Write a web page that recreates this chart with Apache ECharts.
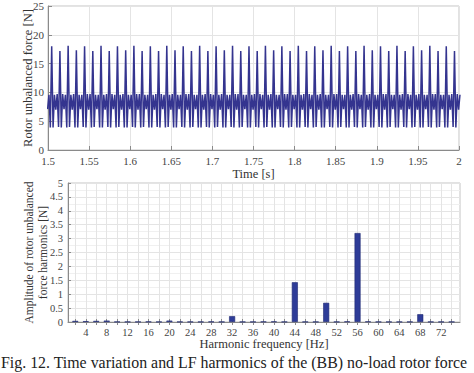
<!DOCTYPE html>
<html><head><meta charset="utf-8">
<script src="https://cdn.jsdelivr.net/npm/echarts@6/dist/echarts.min.js"></script>
<style>html,body{margin:0;padding:0;background:#fff}#c{width:474px;height:373px}</style>
</head><body><div id="c"></div>
<script>
// ---- time signal (sampled) ----
const timeStart = 1.4995;      // time of first sample [s]
const timeStep = 0.0016667;    // sample interval [s]
const force = [
  7.1, 9.6, 3.9,
  18.0, 3.9, 9.6, 7.0, 9.7, 4.0,
  17.2, 3.9, 9.7, 7.1, 9.6, 3.9,
  18.1, 4.0, 9.6, 7.0, 9.7, 3.9,
  17.3, 3.9, 9.6, 7.1, 9.6, 4.0,
  18.0, 3.9, 9.7, 7.0, 9.7, 3.9,
  17.2, 4.0, 9.6, 7.1, 9.6, 3.9,
  18.1, 3.9, 9.6, 7.0, 9.7, 4.0,
  17.2, 3.9, 9.7, 7.1, 9.6, 3.9,
  18.0, 4.0, 9.6, 7.0, 9.7, 3.9,
  17.3, 3.9, 9.6, 7.1, 9.6, 4.0,
  18.1, 3.9, 9.7, 7.0, 9.7, 3.9,
  17.2, 4.0, 9.6, 7.1, 9.6, 3.9,
  18.0, 3.9, 9.6, 7.0, 9.7, 4.0,
  17.2, 3.9, 9.7, 7.1, 9.6, 3.9,
  18.1, 4.0, 9.6, 7.0, 9.7, 3.9,
  17.3, 3.9, 9.6, 7.1, 9.6, 4.0,
  18.0, 3.9, 9.7, 7.0, 9.7, 3.9,
  17.2, 4.0, 9.6, 7.1, 9.6, 3.9,
  18.1, 3.9, 9.6, 7.0, 9.7, 4.0,
  17.2, 3.9, 9.7, 7.1, 9.6, 3.9,
  18.0, 4.0, 9.6, 7.0, 9.7, 3.9,
  17.3, 3.9, 9.6, 7.1, 9.6, 4.0,
  18.1, 3.9, 9.7, 7.0, 9.7, 3.9,
  17.2, 4.0, 9.6, 7.1, 9.6, 3.9,
  18.0, 3.9, 9.6, 7.0, 9.7, 4.0,
  17.2, 3.9, 9.7, 7.1, 9.6, 3.9,
  18.1, 4.0, 9.6, 7.0, 9.7, 3.9,
  17.3, 3.9, 9.6, 7.1, 9.6, 4.0,
  18.0, 3.9, 9.7, 7.0, 9.7, 3.9,
  17.2, 4.0, 9.6, 7.1, 9.6, 3.9,
  18.1, 3.9, 9.6, 7.0, 9.7, 4.0,
  17.2, 3.9, 9.7, 7.1, 9.6, 3.9,
  18.0, 4.0, 9.6, 7.0, 9.7, 3.9,
  17.3, 3.9, 9.6, 7.1, 9.6, 4.0,
  18.1, 3.9, 9.7, 7.0, 9.7, 3.9,
  17.2, 4.0, 9.6, 7.1, 9.6, 3.9,
  18.0, 3.9, 9.6, 7.0, 9.7, 4.0,
  17.2, 3.9, 9.7, 7.1, 9.6, 3.9,
  18.1, 4.0, 9.6, 7.0, 9.7, 3.9,
  17.3, 3.9, 9.6, 7.1, 9.6, 4.0,
  18.0, 3.9, 9.7, 7.0, 9.7, 3.9,
  17.2, 4.0, 9.6, 7.1, 9.6, 3.9,
  18.1, 3.9, 9.6, 7.0, 9.7, 4.0,
  17.2, 3.9, 9.7, 7.1, 9.6, 3.9,
  18.0, 4.0, 9.6, 7.0, 9.7, 3.9,
  17.3, 3.9, 9.6, 7.1, 9.6, 4.0,
  18.1, 3.9, 9.7, 7.0, 9.7, 3.9,
  17.2, 4.0, 9.6, 7.1, 9.6, 3.9,
  18.0, 3.9, 9.6, 7.0, 9.7, 4.0,
  17.2, 3.9, 9.7, 7.0, 9.6
];

// ---- harmonic spectrum ----
const harmonicFreq = [2,4,6,8,10,12,14,16,18,20,22,24,26,28,30,32,34,36,38,40,42,44,46,48,50,52,54,56,58,60,62,64,66,68,70,72,74];
const harmonicAmp  = [0.04,0.03,0.04,0.05,0.01,0.01,0.01,0.015,0.01,0.05,0.01,0.01,0.01,0.015,0.01,0.21,0.01,0.01,0.015,0.02,0.01,1.43,0.01,0.01,0.69,0.01,0.02,3.2,0.02,0.01,0.01,0.01,0.01,0.28,0.01,0.01,0.01];
const freqTickLabels = [4,8,12,16,20,24,28,32,36,40,44,48,52,56,60,64,68,72];

const caption = 'Fig. 12. Time variation and LF harmonics of the (BB) no-load rotor force';

const forceData = force.map((v, i) => [timeStart + i * timeStep, v]);
const specData = harmonicFreq.map((f, i) => [f, harmonicAmp[i]]);

const serif = '"Liberation Serif","Times New Roman",serif';
const gridColor = '#e4e4e4';
const minorColor = '#f0f0f0';
const axisColor = '#8a8a8a';
const labelColor = '#444';

const chart = echarts.init(document.getElementById('c'), null, {renderer: 'svg'});
chart.setOption({
  animation: false,
  textStyle: {fontFamily: serif},
  title: {
    text: caption, left: 1, top: 354, padding: 0,
    textStyle: {fontFamily: serif, fontSize: 15.9, fontWeight: 'normal', color: '#222'}
  },
  grid: [
    {left: 48, top: 6, width: 411, height: 144, show: true, borderColor: '#c4c4c4', borderWidth: 1, backgroundColor: '#fff'},
    {left: 68, top: 183, width: 392, height: 139, show: true, borderColor: '#c4c4c4', borderWidth: 1, backgroundColor: '#fff'}
  ],
  xAxis: [
    {
      gridIndex: 0, type: 'value', min: 1.5, max: 2, interval: 0.05,
      name: 'Time [s]', nameLocation: 'middle', nameGap: 17, nameMoveOverlap: false,
      nameTextStyle: {fontSize: 12.5, color: '#333', fontFamily: serif},
      axisLine: {onZero: false, lineStyle: {color: axisColor}},
      axisTick: {inside: true, length: 4, lineStyle: {color: axisColor}},
      axisLabel: {fontSize: 11, color: labelColor, margin: 5.5, fontFamily: serif},
      splitLine: {show: true, lineStyle: {color: gridColor}}
    },
    {
      gridIndex: 1, type: 'value', min: 0.6, max: 75.6,
      name: 'Harmonic frequency [Hz]', nameLocation: 'middle', nameGap: 15, nameMoveOverlap: false,
      nameTextStyle: {fontSize: 12.5, color: '#333', fontFamily: serif},
      axisLine: {onZero: false, lineStyle: {color: axisColor}},
      axisTick: {inside: true, length: 3, customValues: harmonicFreq, lineStyle: {color: axisColor}},
      axisLabel: {fontSize: 10.5, color: labelColor, margin: 5, customValues: freqTickLabels, fontFamily: serif},
      splitLine: {show: true, lineStyle: {color: gridColor}}
    },
    {
      gridIndex: 1, type: 'value', min: 0.6, max: 75.6, position: 'top',
      axisLine: {show: false},
      axisTick: {inside: true, length: 3, customValues: harmonicFreq, lineStyle: {color: axisColor}},
      axisLabel: {show: false}, splitLine: {show: false}
    }
  ],
  yAxis: [
    {
      gridIndex: 0, type: 'value', min: 0, max: 25, interval: 5,
      name: 'Rotor unbalanced force [N]', nameLocation: 'middle', nameGap: 14, nameMoveOverlap: false,
      nameTextStyle: {fontSize: 12.5, color: '#333', fontFamily: serif},
      axisLine: {show: true, lineStyle: {color: axisColor}},
      axisTick: {show: true, inside: true, length: 4, lineStyle: {color: axisColor}},
      axisLabel: {fontSize: 11, color: labelColor, margin: 4, fontFamily: serif},
      splitLine: {show: true, lineStyle: {color: gridColor}}
    },
    {
      gridIndex: 1, type: 'value', min: 0, max: 5, interval: 0.5,
      name: 'Amplitude of rotor unbalanced\nforce harmonics [N]', nameLocation: 'middle', nameGap: 18, nameMoveOverlap: false,
      nameTextStyle: {fontSize: 11.5, lineHeight: 14, color: '#333', fontFamily: serif, align: 'center'},
      axisLine: {show: true, lineStyle: {color: axisColor}},
      axisTick: {show: true, inside: true, length: 3, lineStyle: {color: axisColor}},
      axisLabel: {fontSize: 10.5, color: labelColor, margin: 5, fontFamily: serif},
      splitLine: {show: true, lineStyle: {color: gridColor}},
      minorTick: {show: false, splitNumber: 2},
      minorSplitLine: {show: true, lineStyle: {color: minorColor}}
    }
  ],
  series: [
    {
      type: 'line', xAxisIndex: 0, yAxisIndex: 0, data: forceData,
      showSymbol: false, symbol: 'none', clip: true,
      lineStyle: {color: '#34348f', width: 1.5}
    },
    {
      type: 'bar', xAxisIndex: 1, yAxisIndex: 1, data: specData,
      barWidth: 6,
      itemStyle: {color: '#2e3c98', borderColor: '#1e2870', borderWidth: 0.6}
    }
  ]
});
</script>
</body></html>
